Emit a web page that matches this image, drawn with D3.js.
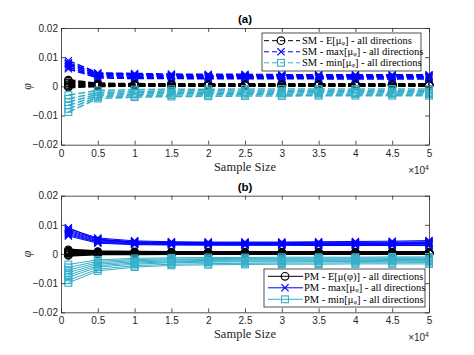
<!DOCTYPE html>
<html><head><meta charset="utf-8">
<script src="https://cdn.jsdelivr.net/npm/d3@7"></script>
<style>body{margin:0;background:#fff}svg{display:block}</style>
</head><body>
<script>
const sampleSizes = [1000,5000,10000,15000,20000,25000,30000,35000,40000,45000,50000];
const xTicks = [0,5000,10000,15000,20000,25000,30000,35000,40000,45000,50000];
const yTicks = [-0.02,-0.01,0,0.01,0.02];

// Panel (a) SM - dashed, per direction
const smMean = [
 [0.0018,0.0008,0.0007,0.0006,0.0006,0.0006,0.0006,0.0006,0.0006,0.0006,0.0006],
 [0.0012,0.0006,0.0005,0.0005,0.0005,0.0005,0.0005,0.0005,0.0005,0.0005,0.0005],
 [0.0006,0.0004,0.0004,0.0004,0.0004,0.0004,0.0004,0.0004,0.0004,0.0004,0.0004],
 [0.0001,0.0002,0.0003,0.0003,0.0003,0.0003,0.0003,0.0003,0.0003,0.0003,0.0003],
 [-0.0003,0.0001,0.0002,0.0002,0.0002,0.0002,0.0002,0.0002,0.0002,0.0002,0.0002],
 [0.0021,0.0009,0.0008,0.0007,0.0007,0.0007,0.0007,0.0007,0.0007,0.0007,0.0007]
];
const smMax = [
 [0.0088,0.0046,0.0044,0.0042,0.0041,0.0041,0.0040,0.0040,0.0040,0.0040,0.0040],
 [0.0080,0.0041,0.0039,0.0038,0.0037,0.0037,0.0037,0.0036,0.0036,0.0036,0.0036],
 [0.0073,0.0037,0.0035,0.0034,0.0034,0.0033,0.0033,0.0033,0.0033,0.0033,0.0032],
 [0.0066,0.0033,0.0031,0.0030,0.0030,0.0030,0.0029,0.0029,0.0029,0.0029,0.0029],
 [0.0060,0.0029,0.0027,0.0027,0.0026,0.0026,0.0026,0.0026,0.0025,0.0025,0.0025],
 [0.0078,0.0044,0.0041,0.0036,0.0035,0.0035,0.0034,0.0034,0.0034,0.0034,0.0034]
];
const smMin = [
 [-0.0030,-0.0014,-0.0011,-0.0010,-0.0010,-0.0009,-0.0009,-0.0009,-0.0009,-0.0009,-0.0009],
 [-0.0043,-0.0021,-0.0017,-0.0016,-0.0015,-0.0015,-0.0015,-0.0014,-0.0014,-0.0014,-0.0014],
 [-0.0054,-0.0027,-0.0022,-0.0021,-0.0020,-0.0020,-0.0019,-0.0019,-0.0019,-0.0019,-0.0019],
 [-0.0065,-0.0032,-0.0027,-0.0025,-0.0024,-0.0024,-0.0023,-0.0023,-0.0023,-0.0023,-0.0023],
 [-0.0077,-0.0037,-0.0032,-0.0030,-0.0029,-0.0028,-0.0028,-0.0028,-0.0027,-0.0027,-0.0027],
 [-0.0088,-0.0042,-0.0037,-0.0035,-0.0034,-0.0033,-0.0033,-0.0032,-0.0032,-0.0032,-0.0032]
];

// Panel (b) PM - solid, per direction
const pmMean = [
 [0.0010,0.0006,0.0005,0.0005,0.0005,0.0005,0.0005,0.0005,0.0005,0.0005,0.0005],
 [0.0006,0.0004,0.0004,0.0004,0.0004,0.0004,0.0004,0.0004,0.0004,0.0004,0.0004],
 [0.0002,0.0003,0.0003,0.0003,0.0003,0.0003,0.0003,0.0003,0.0003,0.0003,0.0003],
 [-0.0002,0.0001,0.0002,0.0002,0.0002,0.0002,0.0002,0.0002,0.0002,0.0002,0.0002],
 [0.0014,0.0008,0.0007,0.0006,0.0006,0.0006,0.0006,0.0006,0.0006,0.0006,0.0006],
 [0.0004,0.0002,0.0001,0.0001,0.0001,0.0001,0.0001,0.0001,0.0001,0.0001,0.0001],
 [0.0008,0.0005,0.0004,0.0004,0.0003,0.0003,0.0003,0.0003,0.0003,0.0003,0.0003],
 [-0.0005,0.0000,0.0000,0.0001,0.0001,0.0001,0.0001,0.0001,0.0001,0.0001,0.0001]
];
const pmMax = [
 [0.0086,0.0055,0.0045,0.0042,0.0041,0.0041,0.0041,0.0042,0.0043,0.0044,0.0046],
 [0.0082,0.0051,0.0042,0.0040,0.0039,0.0039,0.0039,0.0040,0.0040,0.0041,0.0042],
 [0.0078,0.0048,0.0040,0.0038,0.0037,0.0037,0.0037,0.0037,0.0038,0.0038,0.0039],
 [0.0074,0.0045,0.0038,0.0036,0.0035,0.0035,0.0035,0.0035,0.0035,0.0036,0.0036],
 [0.0070,0.0042,0.0036,0.0034,0.0033,0.0033,0.0033,0.0033,0.0033,0.0033,0.0034],
 [0.0066,0.0040,0.0034,0.0032,0.0032,0.0031,0.0031,0.0031,0.0031,0.0031,0.0031],
 [0.0062,0.0037,0.0032,0.0031,0.0030,0.0030,0.0030,0.0029,0.0029,0.0029,0.0029],
 [0.0090,0.0050,0.0041,0.0037,0.0036,0.0036,0.0035,0.0035,0.0036,0.0037,0.0038]
];
const pmMin = [
 [-0.0036,-0.0020,-0.0015,-0.0013,-0.0012,-0.0012,-0.0011,-0.0011,-0.0011,-0.0010,-0.0010],
 [-0.0046,-0.0025,-0.0019,-0.0017,-0.0016,-0.0015,-0.0015,-0.0014,-0.0014,-0.0013,-0.0013],
 [-0.0055,-0.0030,-0.0023,-0.0020,-0.0019,-0.0018,-0.0018,-0.0017,-0.0017,-0.0016,-0.0016],
 [-0.0064,-0.0035,-0.0027,-0.0024,-0.0022,-0.0021,-0.0021,-0.0020,-0.0020,-0.0019,-0.0019],
 [-0.0072,-0.0040,-0.0031,-0.0027,-0.0025,-0.0024,-0.0024,-0.0023,-0.0023,-0.0022,-0.0022],
 [-0.0080,-0.0045,-0.0035,-0.0030,-0.0028,-0.0027,-0.0027,-0.0026,-0.0026,-0.0025,-0.0025],
 [-0.0090,-0.0052,-0.0040,-0.0035,-0.0033,-0.0032,-0.0031,-0.0031,-0.0030,-0.0030,-0.0029],
 [-0.0099,-0.0058,-0.0045,-0.0039,-0.0037,-0.0036,-0.0035,-0.0035,-0.0034,-0.0034,-0.0034]
];

const smLabels = ["SM - E[μᵩ] - all directions","SM - max[μᵩ] - all directions","SM - min[μᵩ] - all directions"];
const pmLabels = ["PM - E[μ(φ)] - all directions","PM - max[μᵩ] - all directions","PM - min[μᵩ] - all directions"];

const colMean = "#000000", colMax = "#0000ff", colMin = "#36afc9";
const W = 474, H = 355;
const svg = d3.select("body").append("svg").attr("width", W).attr("height", H);
svg.append("rect").attr("width", W).attr("height", H).attr("fill", "#fff");

const x0 = 61, x1 = 429;
const panels = [
  {title:"(a)", top:28, bottom:144.7, dash:"7,3", mean:smMean, max:smMax, min:smMin, lw:1.6, meanLw:2.4,
   legend:{x:262,y:33,w:159,h:38, lineX0:264, lineX1:300, mk:281, tx:302, rows:[40.7,51.8,62.8], labels:smLabels}},
  {title:"(b)", top:195.7, bottom:312.3, dash:null, mean:pmMean, max:pmMax, min:pmMin, lw:1.0, meanLw:2.6,
   legend:{x:264,y:269,w:161,h:38, lineX0:268, lineX1:303, mk:285, tx:304, rows:[276.3,287.8,299.3], labels:pmLabels}}
];

const x = d3.scaleLinear().domain([0,50000]).range([x0,x1]);

function marker(g, type, cx, cy, color){
  if(type==="o"){
    g.append("circle").attr("cx",cx).attr("cy",cy).attr("r",3.8).attr("fill","none").attr("stroke",color).attr("stroke-width",1.2);
  } else if(type==="x"){
    const s=3.6;
    g.append("path").attr("d",`M${cx-s},${cy-s}L${cx+s},${cy+s}M${cx-s},${cy+s}L${cx+s},${cy-s}`).attr("stroke",color).attr("stroke-width",1.2).attr("fill","none");
  } else {
    const s=3.4;
    g.append("rect").attr("x",cx-s).attr("y",cy-s).attr("width",2*s).attr("height",2*s).attr("fill","none").attr("stroke",color).attr("stroke-width",1.1);
  }
}

panels.forEach(p=>{
  const y = d3.scaleLinear().domain([-0.02,0.02]).range([p.bottom,p.top]);
  const g = svg.append("g");
  const line = d3.line().x((d,i)=>x(sampleSizes[i])).y(d=>y(d));
  const series = [
    {data:p.mean, color:colMean, mk:"o", lw:p.meanLw},
    {data:p.max, color:colMax, mk:"x", lw:p.lw},
    {data:p.min, color:colMin, mk:"s", lw:p.lw}
  ];
  series.forEach(s=>{
    s.data.forEach(dir=>{
      const path = g.append("path").attr("d", line(dir)).attr("fill","none")
        .attr("stroke", s.color).attr("stroke-width", s.lw);
      if(p.dash) path.attr("stroke-dasharray", p.dash);
      dir.forEach((v,i)=>marker(g, s.mk, x(sampleSizes[i]), y(v), s.color));
    });
  });

  // axes
  const axCol = "#262626";
  const fmtX = d=> d3.format("")(d/10000);
  const fmtY = d=> d===0 ? "0" : d3.format(".2f")(d);
  const ab = svg.append("g").attr("transform",`translate(0,${p.bottom})`)
    .call(d3.axisBottom(x).tickValues(xTicks).tickSizeInner(-4).tickSizeOuter(0).tickPadding(5).tickFormat(fmtX));
  const at = svg.append("g").attr("transform",`translate(0,${p.top})`)
    .call(d3.axisTop(x).tickValues(xTicks).tickSizeInner(-4).tickSizeOuter(0).tickFormat(""));
  const al = svg.append("g").attr("transform",`translate(${x0},0)`)
    .call(d3.axisLeft(y).tickValues(yTicks).tickSizeInner(-4).tickSizeOuter(0).tickPadding(3).tickFormat(fmtY));
  const ar = svg.append("g").attr("transform",`translate(${x1},0)`)
    .call(d3.axisRight(y).tickValues(yTicks).tickSizeInner(-4).tickSizeOuter(0).tickFormat(""));
  [ab,at,al,ar].forEach(a=>{
    a.selectAll("path,line").attr("stroke",axCol).attr("stroke-width",0.8);
    a.selectAll("text").attr("fill","#262626").style("font-family","Liberation Sans, Arial, sans-serif").style("font-size","10px");
  });

  // title
  svg.append("text").attr("x",245).attr("y",p.top-5).attr("text-anchor","middle")
    .style("font-family","Liberation Sans, Arial, sans-serif").style("font-size","11.5px").style("font-weight","bold").text(p.title);
  // x label
  svg.append("text").attr("x",245).attr("y",p.bottom+26).attr("text-anchor","middle")
    .style("font-family","Liberation Serif, Times New Roman, serif").style("font-size","12.5px").attr("fill","#262626").text("Sample Size");
  const xt = svg.append("text").attr("x",x1).attr("y",p.bottom+29).attr("text-anchor","end")
    .style("font-family","Liberation Sans, Arial, sans-serif").style("font-size","10px").attr("fill","#262626");
  xt.append("tspan").text("×10");
  xt.append("tspan").attr("dy",-4).style("font-size","7px").text("4");
  // y label
  svg.append("text").attr("transform",`translate(31,${(p.top+p.bottom)/2}) rotate(-90)`).attr("text-anchor","middle")
    .style("font-family","Liberation Serif, Times New Roman, serif").style("font-size","12px").style("font-style","italic").attr("fill","#262626").text("φ");

  // legend
  const L = p.legend;
  svg.append("rect").attr("x",L.x).attr("y",L.y).attr("width",L.w).attr("height",L.h)
    .attr("fill","#fff").attr("stroke","#262626").attr("stroke-width",0.8);
  const lg = svg.append("g");
  series.forEach((s,i)=>{
    const ry = L.rows[i];
    const ln = lg.append("line").attr("x1",L.lineX0).attr("x2",L.lineX1).attr("y1",ry).attr("y2",ry)
      .attr("stroke",s.color).attr("stroke-width",1);
    if(p.dash) ln.attr("stroke-dasharray","5,3");
    marker(lg, s.mk, L.mk, ry, s.color);
    lg.append("text").attr("x",L.tx).attr("y",ry+3.5)
      .style("font-family","Liberation Serif, DejaVu Serif, serif").style("font-size","10.5px").attr("fill","#000")
      .text(L.labels[i]);
  });
});
</script>
</body></html>
